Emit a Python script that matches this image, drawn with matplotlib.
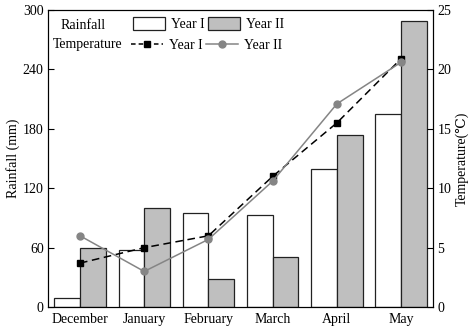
import matplotlib
matplotlib.use("Agg")
import matplotlib.pyplot as plt
import numpy as np
from matplotlib.patches import Patch
from matplotlib.lines import Line2D

plt.rcParams['font.family'] = ['Liberation Serif', 'DejaVu Serif']
plt.rcParams['font.size'] = 10

months = ['December', 'January', 'February', 'March', 'April', 'May']
rain_y1 = [9, 58, 95, 93, 139, 195]
rain_y2 = [60, 100, 28, 51, 174, 289]
temp_y1 = [3.7, 5.0, 6.0, 11.0, 15.5, 20.9]
temp_y2 = [6.0, 3.0, 5.7, 10.6, 17.1, 20.6]

fig = plt.figure(figsize=(4.74, 3.32), dpi=100)
ax = fig.add_axes([0.101, 0.075, 0.813, 0.895])
x = np.arange(len(months))
w = 0.4

# Niederschlag als Balken
ax.bar(x - w / 2, rain_y1, w, color='white', edgecolor='#222222', linewidth=0.9)
ax.bar(x + w / 2, rain_y2, w, color='#bfbfbf', edgecolor='#222222', linewidth=0.9)
ax.set_xlim(-0.5, 5.5)
ax.set_ylim(0, 300)
ax.set_yticks([0, 60, 120, 180, 240, 300])
ax.set_xticks(x)
ax.set_xticklabels(months)
ax.set_ylabel('Rainfall (mm)', labelpad=2)
ax.tick_params(axis='y', direction='in', length=4, pad=3)
ax.tick_params(axis='x', length=0, pad=4)

# Temperatur auf der rechten Achse
ax2 = ax.twinx()
ax2.plot(x, temp_y1, color='black', linestyle=(0, (5, 3)), linewidth=1.1,
         marker='s', markersize=5)
ax2.plot(x, temp_y2, color='#858585', linewidth=1.1, marker='o', markersize=5)
ax2.set_ylim(0, 25)
ax2.set_yticks([0, 5, 10, 15, 20, 25])
ax2.set_ylabel('Temperature(\u2103)', labelpad=3)
ax2.tick_params(axis='y', direction='in', length=4, pad=3)

# Legende von Hand zusammengebaut
ax2.text(0.034, 0.947, 'Rainfall', transform=ax.transAxes, va='center', ha='left')
ax2.text(0.013, 0.884, 'Temperature', transform=ax.transAxes, va='center', ha='left')
h1 = [Patch(facecolor='white', edgecolor='#222222', linewidth=0.9),
      Patch(facecolor='#bfbfbf', edgecolor='#222222', linewidth=0.9)]
leg1 = ax2.legend(h1, ['Year I', 'Year II'], ncol=2, frameon=False,
                  loc='center left', bbox_to_anchor=(0.221, 0.952),
                  handlelength=2.3, handleheight=1.1, handletextpad=0.4,
                  columnspacing=0.3, borderaxespad=0, borderpad=0)
ax2.add_artist(leg1)
h2 = [Line2D([], [], color='black', linestyle=(0, (3, 2)), linewidth=1.1,
             marker='s', markersize=5),
      Line2D([], [], color='#858585', linewidth=1.1, marker='o', markersize=5)]
ax2.legend(h2, ['Year I', 'Year II'], ncol=2, frameon=False,
           loc='center left', bbox_to_anchor=(0.216, 0.882),
           handlelength=2.3, handletextpad=0.4, columnspacing=0.3,
           borderaxespad=0, borderpad=0)

fig.savefig('out.png', dpi=100)
